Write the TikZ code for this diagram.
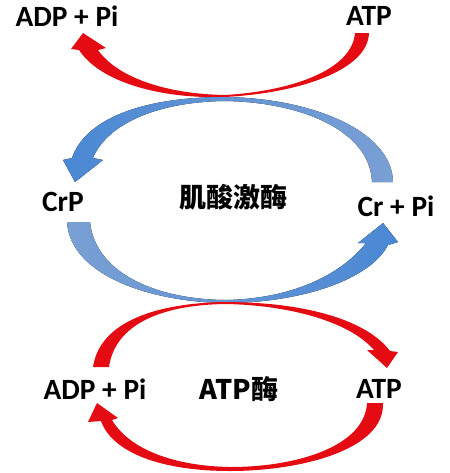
\documentclass[tikz,border=0pt]{standalone}
\usepackage{fontspec}
\setmainfont{Carlito}
\newfontfamily\cjk{Noto Sans CJK SC}
\definecolor{redArrow}{RGB}{228,12,18}
\definecolor{blueDark}{RGB}{74,136,212}
\definecolor{blueLight}{RGB}{122,160,212}

\begin{document}
\begin{tikzpicture}[x=0.5pt, y=-0.5pt,
    chem/.style={font=\fontsize{14.7}{16}\selectfont\bfseries, inner sep=0pt},
    enzyme/.style={font=\fontsize{13.5}{15}\selectfont\cjk\bfseries, inner sep=0pt}]
  \useasboundingbox (0,0) rectangle (450,473);

  % labels
  \node[chem] (adpTop) at (67,16) {ADP + Pi};
  \node[chem] (atpTop) at (369,16) {ATP};
  \node[chem] (crp) at (63,202) {CrP};
  \node[enzyme] (ck) at (234,197) {肌酸激酶};
  \node[chem] (crpi) at (396,206) {Cr + Pi};
  \node[chem] (adpBot) at (95,389) {ADP + Pi};
  \node[enzyme] (atpase) at (239,389) {ATP酶};
  \node[chem] (atpBot) at (379,389) {ATP};

  % top red: ATP -> ADP + Pi
  \fill[redArrow] (369,33) .. controls (368,70) and (300,93) .. (225,97)
    .. controls (160,99) and (100,82) .. (79,50)
    -- (71,49) -- (83,33) -- (106,48) -- (98,50)
    .. controls (117,77) and (165,94) .. (225,95)
    .. controls (292,91) and (352,70) .. (355,33) -- cycle;

  % top blue: Cr + Pi -> CrP
  \fill[left color=blueDark, right color=blueLight]
    (393,182) .. controls (392,130) and (310,98) .. (225,97)
    .. controls (140,97) and (85,120) .. (72,158)
    -- (63,160) -- (75,182) -- (103,160) -- (93,158)
    .. controls (105,128) and (150,102) .. (225,101)
    .. controls (300,102) and (370,130) .. (372,182) -- cycle;

  % bottom blue: CrP -> Cr + Pi
  \fill[left color=blueLight, right color=blueDark]
    (67,222) .. controls (70,275) and (150,302) .. (225,303)
    .. controls (300,303) and (370,280) .. (388,245)
    -- (398,242) -- (383,223) -- (358,243) -- (366,243)
    .. controls (340,276) and (290,299) .. (225,300)
    .. controls (150,299) and (95,270) .. (90,222) -- cycle;

  % upper red: ADP + Pi -> ATP
  \fill[redArrow] (93,367) .. controls (100,320) and (160,303) .. (225,302)
    .. controls (300,302) and (365,318) .. (390,351)
    -- (398,352) -- (387,368) -- (367,350) -- (374,350)
    .. controls (350,322) and (290,305) .. (225,304)
    .. controls (160,305) and (115,325) .. (109,367) -- cycle;

  % lower red: ATP -> ADP + Pi
  \fill[redArrow] (383,403) .. controls (385,450) and (300,471) .. (230,471)
    .. controls (160,471) and (112,452) .. (101,421)
    -- (88,422) -- (97,403) -- (118,418) -- (112,420)
    .. controls (130,450) and (175,466) .. (230,467)
    .. controls (300,467) and (365,445) .. (367,403) -- cycle;
\end{tikzpicture}
\end{document}
